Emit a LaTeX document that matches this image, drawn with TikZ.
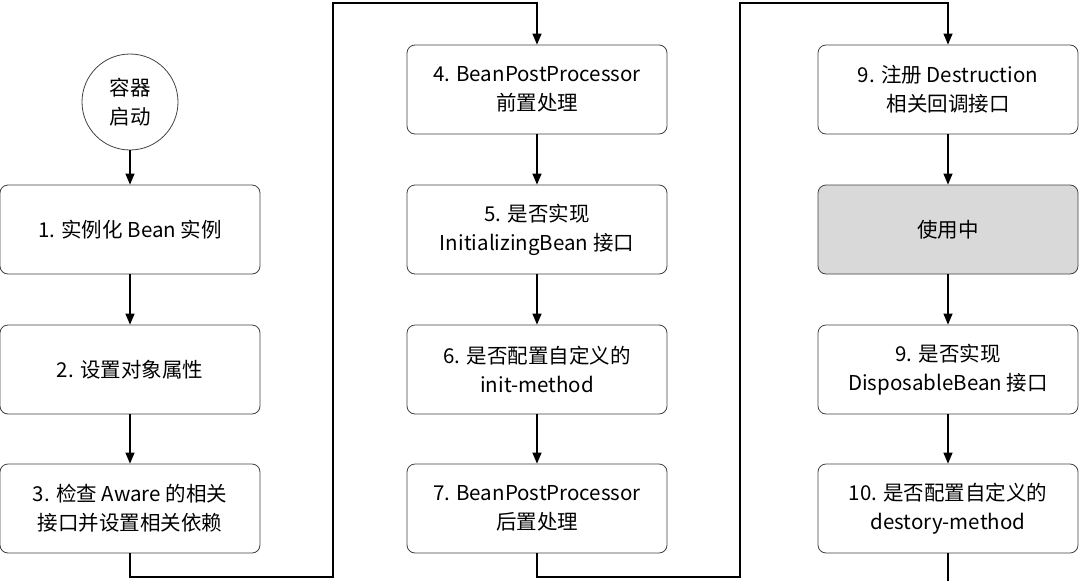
\documentclass[tikz,border=0pt]{standalone}
\usepackage{fontspec}
\setmainfont{Noto Sans CJK SC}
\usetikzlibrary{arrows.meta}
\begin{document}
\begin{tikzpicture}[x=1pt,y=-1pt,
 stepbox/.style={draw=black!75,line width=0.8pt,rounded corners=8pt,minimum width=260pt,minimum height=89pt,align=center,font=\fontsize{20.5}{29}\selectfont,inner sep=2pt},
 conn/.style={line width=1.3pt,-{Triangle[length=11pt,width=9pt]}},
 plain/.style={line width=1.3pt}]
\useasboundingbox (0,0) rectangle (1081,581);
\node[draw=black!75,line width=0.8pt,circle,minimum size=96pt,align=center,font=\fontsize{20.5}{29}\selectfont,inner sep=0pt] (c0) at (130,102) {容器\\启动};
\node[stepbox] (b1) at (130,229.5) {1. 实例化 Bean 实例};
\node[stepbox] (b2) at (130,369.5) {2. 设置对象属性};
\node[stepbox] (b3) at (130,508.5) {3. 检查 Aware 的相关\\接口并设置相关依赖};
\node[stepbox] (b4) at (537,89.5) {4. BeanPostProcessor\\前置处理};
\node[stepbox] (b5) at (537,229.5) {5. 是否实现\\InitializingBean 接口};
\node[stepbox] (b6) at (537,369.5) {6. 是否配置自定义的\\init-method};
\node[stepbox] (b7) at (537,508.5) {7. BeanPostProcessor\\后置处理};
\node[stepbox] (b8) at (948,89.5) {9. 注册 Destruction\\相关回调接口};
\node[stepbox,fill=black!15] (b9) at (948,229.5) {使用中};
\node[stepbox] (b10) at (948,369.5) {9. 是否实现\\DisposableBean 接口};
\node[stepbox] (b11) at (948,508.5) {10. 是否配置自定义的\\destory-method};
\draw[conn] (c0) -- (b1);
\draw[conn] (b1) -- (b2);
\draw[conn] (b2) -- (b3);
\draw[conn] (b4) -- (b5);
\draw[conn] (b5) -- (b6);
\draw[conn] (b6) -- (b7);
\draw[conn] (b8) -- (b9);
\draw[conn] (b9) -- (b10);
\draw[conn] (b10) -- (b11);
\coordinate (e1) at (130,577);
\coordinate (e2) at (537,577);
\coordinate (e3) at (948,581);
\draw[conn] (b3.south) -- (e1) -| (333,3) -| (b4.north);
\draw[conn] (b7.south) -- (e2) -| (740,3) -| (b8.north);
\draw[plain] (b11.south) -- (e3);
\end{tikzpicture}
\end{document}
